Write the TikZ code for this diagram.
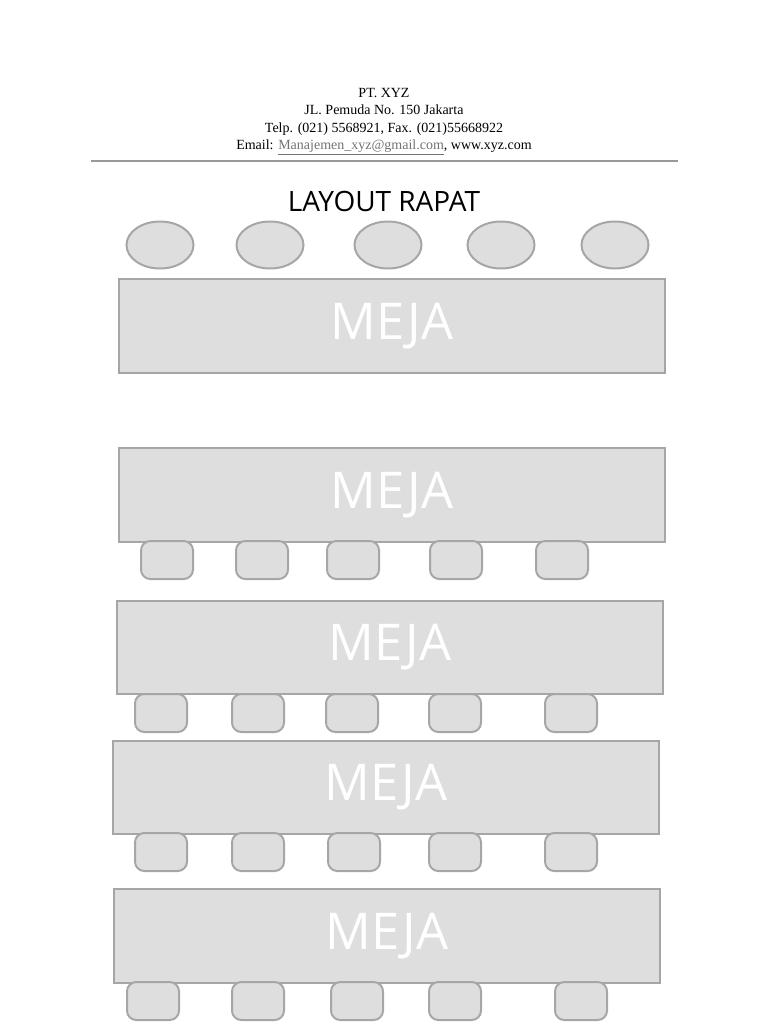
\documentclass[tikz,border=0pt]{standalone}
\usepackage{fontspec}
\usetikzlibrary{shapes.geometric}
\setmainfont{Liberation Serif}
\newfontfamily\titlefont{Open Sans}
\begin{document}
\begin{tikzpicture}[x=0.75pt,y=-0.75pt,
  furn/.style={fill=black!13,draw=black!35,line width=1.5pt},
  seat/.style={furn,rounded corners=7pt},
  oval/.style={furn,ellipse,minimum width=67pt*0.75,minimum height=47pt*0.75,inner sep=0pt}]
\useasboundingbox (0,0) rectangle (768,1024);
\node[font=\fontsize{10.5}{13}\selectfont,align=center,anchor=south] (hdr) at (384,160)
 {PT. XYZ\\JL. Pemuda No. 150 Jakarta\\Telp. (021) 5568921, Fax. (021)55668922\\Email: \textcolor{black!55}{\underline{Manajemen\_xyz@gmail.com}}, www.xyz.com};
\draw[black!40,line width=1pt] (91,161) coordinate (l1) -- (678,161) coordinate (l2);
\node[font=\titlefont\fontsize{21}{21}\selectfont] (title) at (384,201) {LAYOUT RAPAT};
\foreach \x [count=\i] in {160,270,388,501,615}
  \node[oval] (o\i) at (\x,245) {};
\foreach \a/\b/\c/\d [count=\i] in {119/279/665/373,119/448/665/542,117/601/663/694,113/741/659/834,114/889/660/983}
  \draw[furn] (\a,\b) rectangle (\c,\d) node[midway,font=\titlefont\fontsize{38}{38}\selectfont,text=white] (m\i) {MEJA};
\foreach \xs/\y [count=\r] in {{141,236,327,430,536}/541,{135,232,326,429,545}/694,{135,232,328,429,545}/833,{127,232,331,429,555}/982}
  \foreach \x in \xs
    \draw[seat] (\x,\y) rectangle ++(52,38);
\end{tikzpicture}
\end{document}
